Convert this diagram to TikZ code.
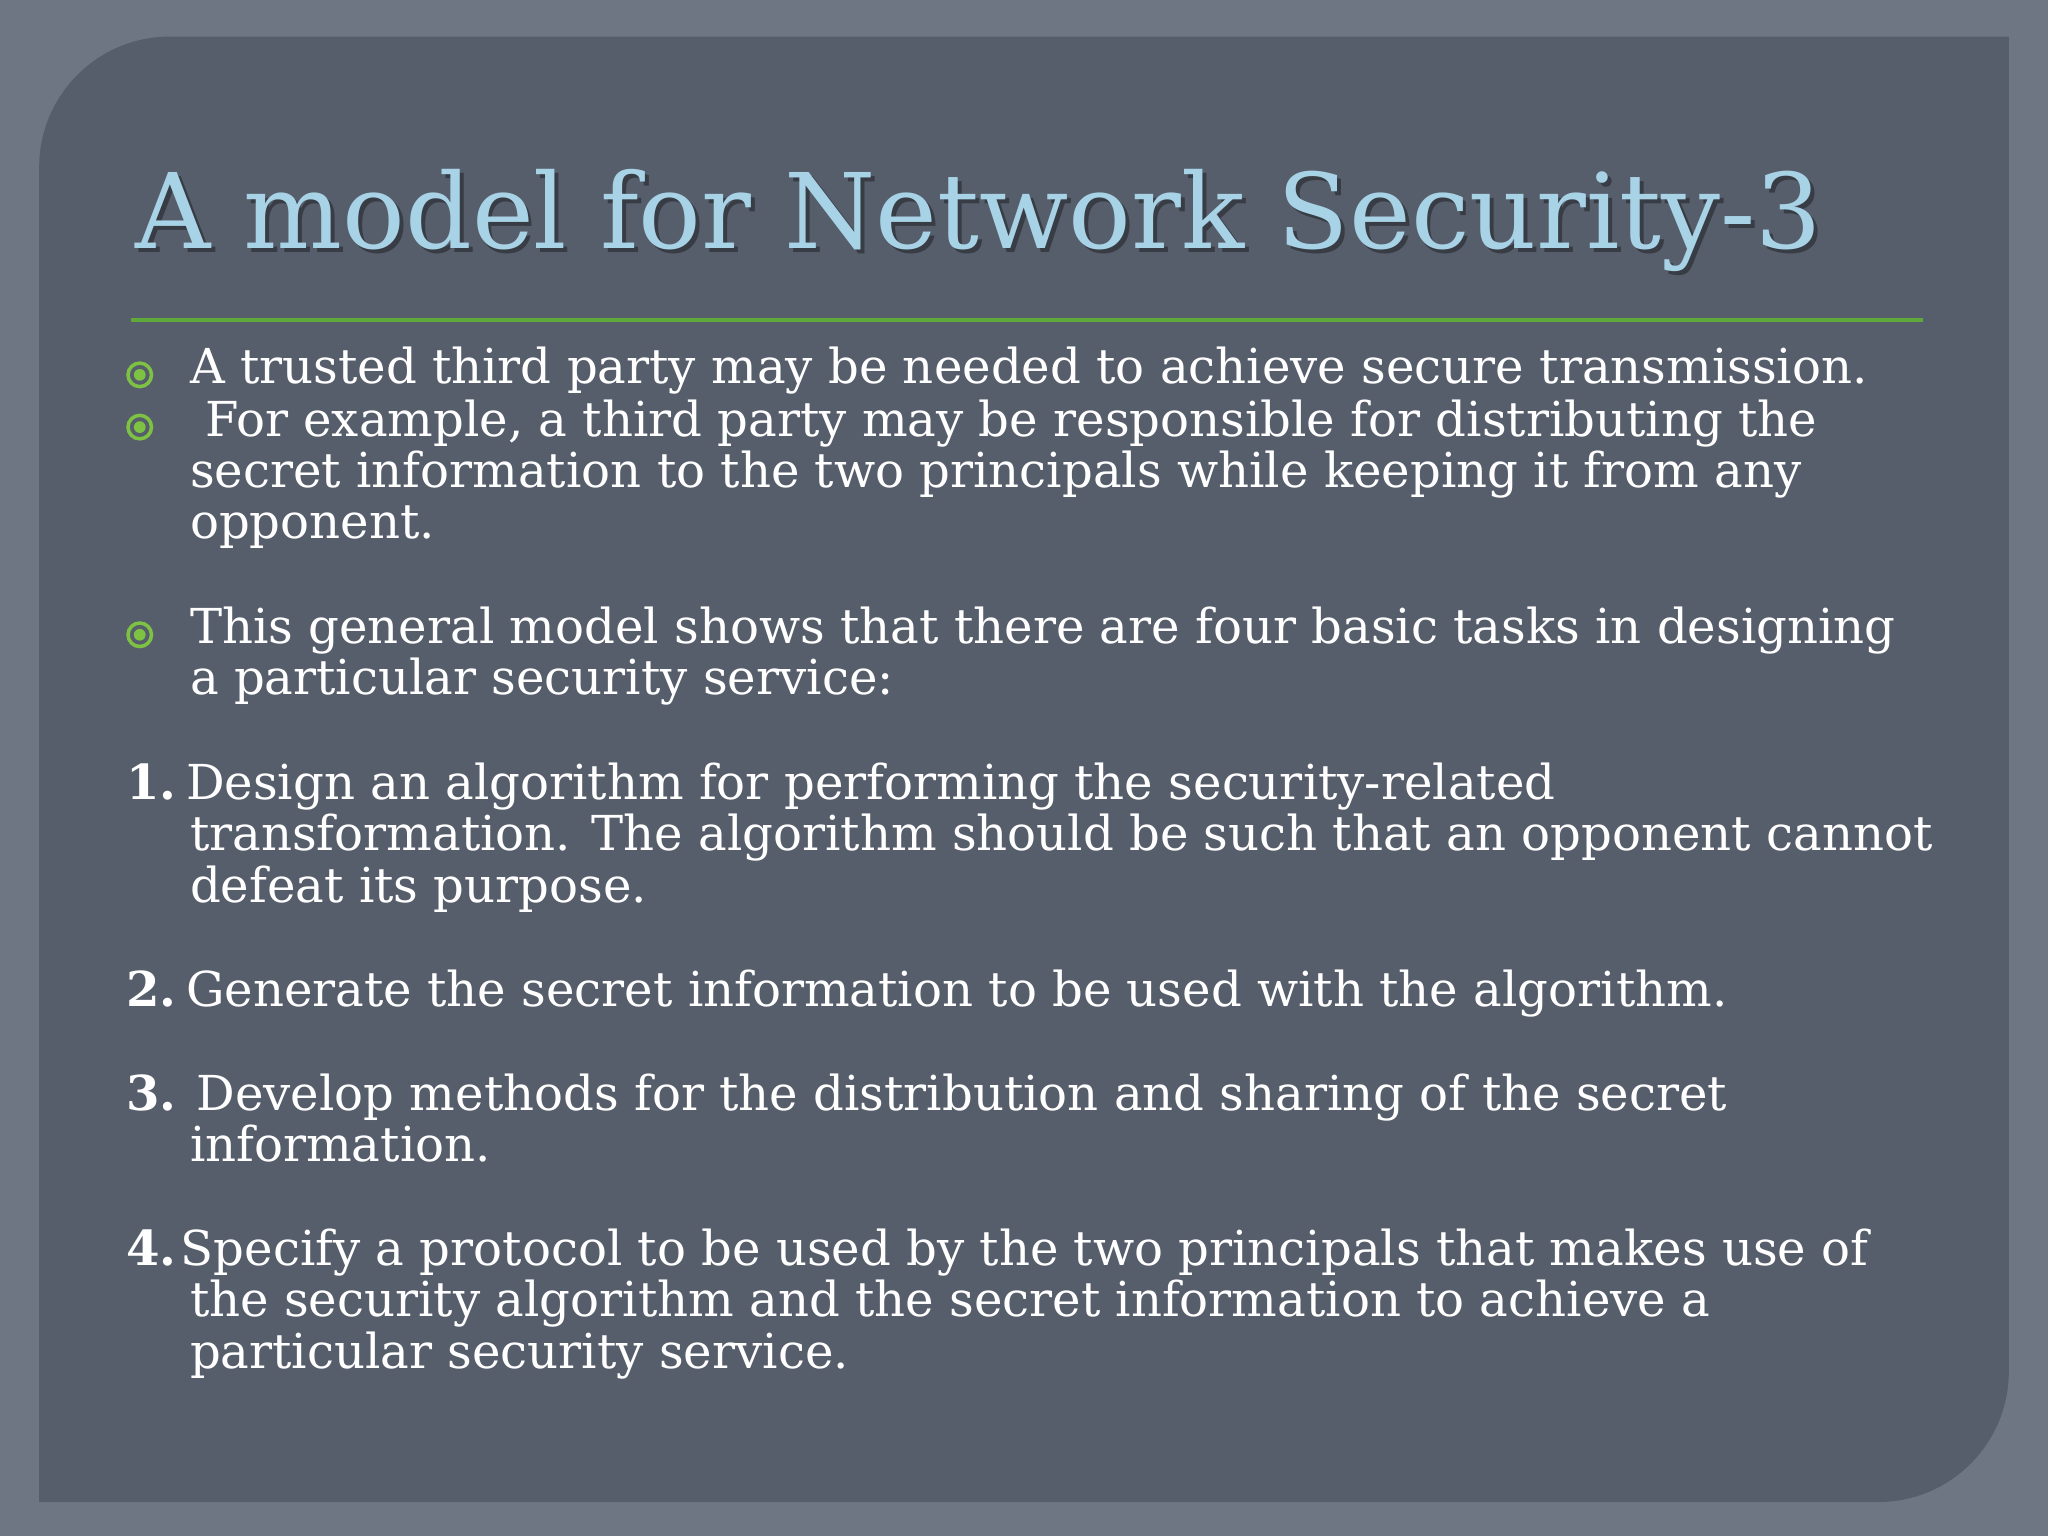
\documentclass[tikz,border=0pt]{standalone}
\usepackage{fontspec}
\setmainfont{DejaVu Serif}
\newfontfamily\titlefont{DejaVu Serif}
\usepackage{graphicx}
\definecolor{outerbg}{HTML}{6E7684}
\definecolor{panel}{HTML}{575E6B}
\definecolor{titleblue}{HTML}{A8D3E6}
\definecolor{rulegreen}{HTML}{5FA83A}
\definecolor{bulletgreen}{HTML}{7DC242}
\begin{document}
\begin{tikzpicture}[x=0.013061cm,y=-0.013061cm,
  body/.style={anchor=mid west,inner sep=0pt,text=white,font=\fontsize{13.7pt}{16pt}\selectfont},
  num/.style={body,font=\fontsize{13.7pt}{16pt}\selectfont\bfseries}]
\useasboundingbox (0,0) rectangle (1568,1176);
\fill[outerbg] (0,0) rectangle (1568,1176);
\fill[panel] (30,1150) -- (30,128) arc[start angle=180,end angle=270,radius=100] -- (1538,28) -- (1538,1050) arc[start angle=0,end angle=90,radius=100] -- cycle;
\node[anchor=mid west,inner sep=0pt,text=black,opacity=0.35] (tsh) at (106,186) {\resizebox{480pt}{!}{\titlefont A model for Network Security-3}};
\node[anchor=mid west,inner sep=0pt,text=titleblue] (title) at (103,183) {\resizebox{480pt}{!}{\titlefont A model for Network Security-3}};
\draw[rulegreen,line width=1.2pt] (100,245) -- (1472,245);
\foreach \y in {287,327,486}{
  \draw[bulletgreen,line width=1pt] (107,\y) circle[radius=9];
  \fill[bulletgreen] (107,\y) circle[radius=4.5];
}
\node[body] (l1) at (145,287) {A trusted third party may be needed to achieve secure transmission.};
\node[body] (l2) at (145,327) {\ For example, a third party may be responsible for distributing the};
\node[body] (l3) at (145,366) {secret information to the two principals while keeping it from any};
\node[body] (l4) at (145,405) {opponent.};
\node[body] (l5) at (145,486) {This general model shows that there are four basic tasks in designing};
\node[body] (l6) at (145,525) {a particular security service:};
\node[num] (n1) at (96,605) {1.};
\node[body] (l7) at (142,605) {Design an algorithm for performing the security-related};
\node[body] (l8) at (145,644) {transformation. The algorithm should be such that an opponent cannot};
\node[body] (l9) at (145,684) {defeat its purpose.};
\node[num] (n2) at (96,764) {2.};
\node[body] (l10) at (142,764) {Generate the secret information to be used with the algorithm.};
\node[num] (n3) at (96,843) {3.};
\node[body] (l11) at (150,843) {Develop methods for the distribution and sharing of the secret};
\node[body] (l12) at (145,882) {information.};
\node[num] (n4) at (96,962) {4.};
\node[body] (l13) at (138,962) {Specify a protocol to be used by the two principals that makes use of};
\node[body] (l14) at (145,1001) {the security algorithm and the secret information to achieve a};
\node[body] (l15) at (145,1041) {particular security service.};
\end{tikzpicture}
\end{document}
